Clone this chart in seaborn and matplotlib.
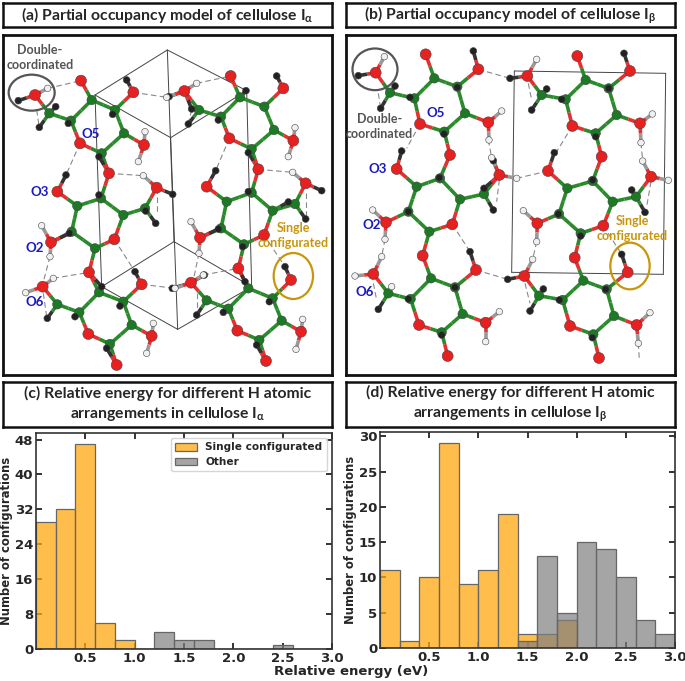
import matplotlib
matplotlib.use('Agg')
import matplotlib.pyplot as plt
from matplotlib.patches import Ellipse
import seaborn as sns
import pandas as pd
import numpy as np

# Histogram counts, one value per 0.2 eV bin
bin_mids = [0.1, 0.3, 0.5, 0.7, 0.9, 1.1, 1.3, 1.5, 1.7, 1.9, 2.1, 2.3, 2.5, 2.7, 2.9]
c_single = [29, 32, 47, 6, 2, 0, 0, 0, 0, 0, 0, 0, 0, 0, 0]
c_other = [0, 0, 0, 0, 0, 0, 4, 2, 2, 0, 0, 0, 1, 0, 0]
d_single = [11, 1, 10, 29, 9, 11, 19, 2, 2, 4, 0, 0, 0, 0, 0]
d_other = [0, 0, 0, 0, 0, 0, 0, 1, 13, 5, 15, 14, 10, 4, 2]

c_yticks = [0, 8, 16, 24, 32, 40, 48]
d_yticks = [0, 5, 10, 15, 20, 25, 30]
xticks = [0.5, 1.0, 1.5, 2.0, 2.5, 3.0]

# Atoms of the two structure panels, in panel units (3 per picture pixel)
a_carbon = [(148, 340), (213, 362), (275, 300), (345, 330), (372, 400), (305, 460),
            (232, 618), (303, 595), (370, 645), (435, 625), (215, 695), (285, 745),
            (297, 877), (370, 905), (395, 975), (330, 1032), (238, 937), (172, 913),
            (597, 330), (663, 350), (720, 292), (793, 320), (822, 390), (755, 447),
            (680, 605), (755, 578), (818, 632), (885, 612), (663, 685), (732, 733),
            (745, 865), (818, 895), (845, 962), (778, 1020), (685, 926), (620, 901)]
a_oxygen = [(105, 285), (243, 242), (400, 277), (432, 435), (240, 430), (327, 520),
            (470, 563), (172, 575), (343, 718), (153, 727), (267, 817), (128, 860),
            (425, 853), (265, 1002), (455, 1008), (350, 1095),
            (553, 273), (692, 228), (850, 265), (880, 422), (688, 415), (775, 508),
            (917, 550), (620, 560), (792, 705), (600, 713), (715, 805), (573, 848),
            (873, 840), (712, 992), (903, 995), (798, 1083)]
a_h_dark = [(55, 302), (167, 320), (118, 382), (205, 370), (338, 343), (380, 240),
            (297, 470), (198, 525), (518, 583), (297, 585), (437, 633), (467, 670),
            (208, 700), (405, 815), (360, 918), (305, 860), (142, 955), (225, 950),
            (320, 1045), (507, 290), (565, 372), (575, 327), (655, 360), (738, 272),
            (830, 228), (745, 458), (647, 512), (745, 575), (965, 572), (917, 657),
            (655, 687), (865, 606), (728, 740), (517, 865), (590, 945), (613, 825),
            (735, 845), (808, 905), (670, 937), (770, 1035), (855, 800)]
a_h_light = [(143, 265), (500, 292), (590, 250), (435, 395), (415, 485), (430, 527),
             (125, 677), (150, 770), (77, 878), (160, 835), (460, 970), (440, 1060),
             (885, 383), (865, 470), (878, 517), (573, 665), (597, 760), (610, 825),
             (525, 865), (908, 958), (888, 1048)]
a_hbonds = [((143, 265), (243, 242)), ((400, 277), (500, 292)), ((590, 250), (692, 228)),
            ((240, 430), (198, 525)), ((327, 520), (430, 527)), ((688, 415), (647, 512)),
            ((775, 508), (878, 517)), ((470, 563), (470, 640)), ((917, 580), (917, 650)),
            ((343, 718), (405, 815)), ((792, 705), (855, 800)), ((150, 770), (130, 845)),
            ((160, 835), (267, 817)), ((425, 853), (525, 865)), ((597, 760), (580, 840)),
            ((610, 825), (715, 805)), ((110, 330), (118, 382)), ((575, 330), (565, 370)),
            ((590, 880), (590, 945)), ((130, 880), (140, 950))]
a_cell = [((502, 150), (285, 285)), ((285, 285), (512, 413)), ((512, 413), (740, 272)),
          ((740, 272), (502, 150)), ((285, 285), (305, 860)), ((502, 150), (522, 725)),
          ((512, 413), (533, 988)), ((740, 272), (755, 860)), ((522, 725), (305, 860)),
          ((305, 860), (533, 988)), ((533, 988), (755, 860)), ((755, 860), (522, 725))]

b_carbon = [(150, 278), (223, 295), (283, 235), (352, 260), (375, 340), (313, 395),
            (230, 560), (300, 535), (360, 598), (432, 582), (205, 635), (268, 695),
            (273, 835), (345, 862), (368, 942), (305, 997), (212, 897), (145, 880),
            (605, 285), (677, 298), (737, 240), (806, 265), (830, 345), (767, 400),
            (682, 565), (758, 543), (818, 605), (888, 590), (657, 642), (722, 700),
            (730, 842), (800, 868), (822, 948), (760, 1003), (668, 900), (597, 887)]
b_oxygen = [(107, 218), (257, 163), (415, 208), (445, 367), (240, 372), (330, 465),
            (478, 525), (170, 507), (337, 673), (138, 667), (248, 767), (100, 822),
            (408, 810), (237, 975), (437, 968), (323, 1068),
            (562, 228), (712, 168), (870, 213), (900, 370), (697, 378), (785, 470),
            (933, 530), (624, 513), (790, 677), (592, 670), (704, 773), (553, 828),
            (863, 817), (690, 978), (890, 975), (777, 1074)]
b_h_dark = [(55, 227), (165, 258), (122, 325), (210, 292), (352, 262), (400, 153),
            (312, 402), (185, 453), (298, 533), (460, 482), (432, 565), (460, 630),
            (205, 635), (390, 755), (345, 862), (205, 897), (115, 928), (305, 1005),
            (510, 235), (620, 267), (575, 330), (665, 298), (852, 160), (806, 265),
            (767, 410), (643, 458), (758, 540), (875, 570), (915, 637), (655, 642),
            (722, 708), (845, 763), (503, 838), (610, 867), (570, 933), (658, 900),
            (797, 868), (757, 1013)]
b_h_light = [(133, 170), (590, 178), (485, 333), (447, 420), (455, 473), (98, 630),
             (135, 718), (125, 770), (45, 828), (155, 860), (478, 935), (437, 1025),
             (937, 342), (903, 428), (908, 483), (985, 541), (530, 535), (550, 632),
             (590, 725), (578, 778), (930, 938), (895, 1030)]
b_hbonds = [((415, 208), (510, 235)), ((240, 372), (200, 445)), ((697, 378), (650, 455)),
            ((445, 420), (455, 473)), ((903, 428), (908, 483)), ((530, 535), (624, 513)),
            ((337, 673), (390, 755)), ((790, 677), (845, 763)), ((135, 718), (125, 770)),
            ((408, 810), (503, 838)), ((590, 725), (578, 778)), ((478, 540), (470, 605)),
            ((933, 545), (920, 620)), ((115, 280), (122, 325)), ((565, 250), (575, 300)),
            ((555, 850), (570, 910)), ((100, 850), (110, 900)), ((895, 1030), (898, 1080))]
b_cell = [((523, 213), (977, 220)), ((977, 220), (970, 823)),
          ((970, 823), (515, 817)), ((515, 817), (523, 213))]

a_labels = [('O5', 273, 402), ('O3', 118, 577), ('O2', 105, 743), ('O6', 105, 907)]
b_labels = [('O5', 288, 338), ('O3', 112, 507), ('O2', 95, 675), ('O6', 75, 875)]

sns.set_style('white')
plt.rcParams['font.family'] = ['DejaVu Sans']
plt.rcParams['mathtext.default'] = 'regular'

W, H = 685, 681
fig = plt.figure(figsize=(W / 100, H / 100), dpi=100)


# axes placed by picture pixels
def px_axes(left, top, right, bottom):
    return fig.add_axes([left / W, 1 - bottom / H, (right - left) / W, (bottom - top) / H])


def title_box(left, top, right, bottom, text):
    ax = px_axes(left, top, right, bottom)
    ax.set_xticks([])
    ax.set_yticks([])
    for s in ax.spines.values():
        s.set_linewidth(1.8)
        s.set_color('#111111')
    ax.text(0.5, 0.5, text, transform=ax.transAxes, ha='center', va='center',
            fontsize=11.3, fontweight='bold', family='Lato', linespacing=1.35)
    return ax


def draw_structure(ax, carbon, oxygen, h_dark, h_light, hbonds, cell):
    for p, q in cell:
        ax.plot([p[0], q[0]], [p[1], q[1]], color='#444444', lw=0.7, zorder=1)
    for p, q in hbonds:
        ax.plot([p[0], q[0]], [p[1], q[1]], color='#888888', lw=0.8, ls=(0, (5, 3)), zorder=1)

    groups = [('C', carbon, '#2b8a2b'), ('O', oxygen, '#e53030'),
              ('H', h_dark, '#333333'), ('W', h_light, '#999999')]
    reach = {'CC': 90, 'CO': 85, 'CH': 58, 'CW': 58, 'OH': 62, 'OW': 62}
    for i, (k1, pts1, col1) in enumerate(groups):
        for k2, pts2, col2 in groups[i:]:
            lim = reach.get(k1 + k2)
            if lim is None:
                continue
            for p in pts1:
                for q in pts2:
                    d = np.hypot(p[0] - q[0], p[1] - q[1])
                    if d == 0 or d > lim or (k1 == k2 and p > q):
                        continue
                    mid = ((p[0] + q[0]) / 2, (p[1] + q[1]) / 2)
                    ax.plot([p[0], mid[0]], [p[1], mid[1]], color=col1, lw=2.6, zorder=2,
                            solid_capstyle='butt')
                    ax.plot([mid[0], q[0]], [mid[1], q[1]], color=col2, lw=2.6, zorder=2,
                            solid_capstyle='butt')

    atoms = pd.DataFrame(
        [(x, y, k) for k, pts, _ in groups for x, y in pts], columns=['x', 'y', 'kind'])
    sns.scatterplot(data=atoms, x='x', y='y', hue='kind', size='kind', ax=ax, legend=False,
                    hue_order=['C', 'O', 'H', 'W'],
                    palette={'C': '#1c7a25', 'O': '#e8201f', 'H': '#222222', 'W': '#f0f0f0'},
                    sizes={'C': 46, 'O': 62, 'H': 24, 'W': 22},
                    edgecolor='#444444', linewidth=0.4, zorder=3)
    ax.set_xlabel('')
    ax.set_ylabel('')
    ax.set_xticks([])
    ax.set_yticks([])
    for s in ax.spines.values():
        s.set_linewidth(2)
        s.set_color('#111111')


def draw_hist(ax, single, other, yticks, ymax):
    df = pd.DataFrame({'energy': bin_mids, 'single': single, 'other': other})
    sns.histplot(data=df, x='energy', weights='single', bins=15, binrange=(0, 3), ax=ax,
                 color='#ffa90f', alpha=0.75, edgecolor='#666666', linewidth=0.9,
                 label='Single configurated')
    sns.histplot(data=df, x='energy', weights='other', bins=15, binrange=(0, 3), ax=ax,
                 color='#7f7f7f', alpha=0.7, edgecolor='#666666', linewidth=0.9,
                 label='Other')
    ax.set_xlim(0, 3)
    ax.set_ylim(0, ymax)
    ax.set_xticks(xticks)
    ax.set_yticks(yticks)
    ax.set_xlabel('')
    ax.set_ylabel('Number of configurations', fontsize=8.4, fontweight='bold')
    ax.yaxis.set_label_coords(-0.078, 0.5)
    ax.tick_params(direction='in', top=True, right=True, left=True, bottom=True,
                   length=4, width=1.2, color='#111111', pad=2)
    for lab in ax.get_xticklabels() + ax.get_yticklabels():
        lab.set_fontweight('bold')
        lab.set_fontsize(9.5)
    for s in ax.spines.values():
        s.set_linewidth(1.2)
        s.set_color('#333333')


title_box(3, 3, 332, 27, r'(a) Partial occupancy model of cellulose I$_{\alpha}$')
title_box(346, 3, 675, 27, r'(b) Partial occupancy model of cellulose I$_{\beta}$')
title_box(3, 382, 332, 427, '(c) Relative energy for different H atomic\n'
          r'arrangements in cellulose I$_{\alpha}$')
title_box(346, 382, 675, 427, '(d) Relative energy for different H atomic\n'
          r'arrangements in cellulose I$_{\beta}$')

# structure panels
ax_a = px_axes(3, 35, 332, 375)
ax_a.set_xlim(9, 996)
ax_a.set_ylim(1125, 105)
draw_structure(ax_a, a_carbon, a_oxygen, a_h_dark, a_h_light, a_hbonds, a_cell)
for txt, x, y in a_labels:
    ax_a.text(x, y, txt, color='#1a1ac0', fontsize=9.5, fontweight='bold', family='Lato',
              ha='center', va='center', zorder=5)
ax_a.text(120, 172, 'Double-\ncoordinated', color='#555555', fontsize=9, fontweight='bold',
          family='Lato', ha='center', va='center', linespacing=1.3, zorder=5)
ax_a.text(880, 707, 'Single\nconfigurated', color='#c8960c', fontsize=9, fontweight='bold',
          family='Lato', ha='center', va='center', linespacing=1.3, zorder=5)
ax_a.add_patch(Ellipse((95, 278), 138, 108, fill=False, ec='#555555', lw=1.6, zorder=4))
ax_a.add_patch(Ellipse((880, 828), 118, 138, fill=False, ec='#c8960c', lw=1.6, zorder=4))

ax_b = px_axes(346, 35, 675, 375)
ax_b.set_xlim(18, 1005)
ax_b.set_ylim(1125, 105)
draw_structure(ax_b, b_carbon, b_oxygen, b_h_dark, b_h_light, b_hbonds, b_cell)
for txt, x, y in b_labels:
    ax_b.text(x, y, txt, color='#1a1ac0', fontsize=9.5, fontweight='bold', family='Lato',
              ha='center', va='center', zorder=5)
ax_b.text(118, 380, 'Double-\ncoordinated', color='#555555', fontsize=9, fontweight='bold',
          family='Lato', ha='center', va='center', linespacing=1.3, zorder=5)
ax_b.text(878, 686, 'Single\nconfigurated', color='#c8960c', fontsize=9, fontweight='bold',
          family='Lato', ha='center', va='center', linespacing=1.3, zorder=5)
ax_b.add_patch(Ellipse((105, 208), 135, 125, fill=False, ec='#555555', lw=1.6, zorder=4))
ax_b.add_patch(Ellipse((870, 798), 118, 140, fill=False, ec='#c8960c', lw=1.6, zorder=4))

# histograms
ax_c = px_axes(36, 433, 332, 649)
draw_hist(ax_c, c_single, c_other, c_yticks, 49.5)
ax_c.legend(loc='upper right', prop={'weight': 'bold', 'size': 7.6}, frameon=True,
            borderaxespad=0.5, handlelength=2.1, labelspacing=0.45)

ax_d = px_axes(380, 432, 675, 648)
draw_hist(ax_d, d_single, d_other, d_yticks, 30.6)

fig.text(351 / W, 1 - 672 / H, 'Relative energy (eV)', ha='center', va='center',
         fontsize=9.5, fontweight='bold')

fig.savefig('out.png', dpi=100)
